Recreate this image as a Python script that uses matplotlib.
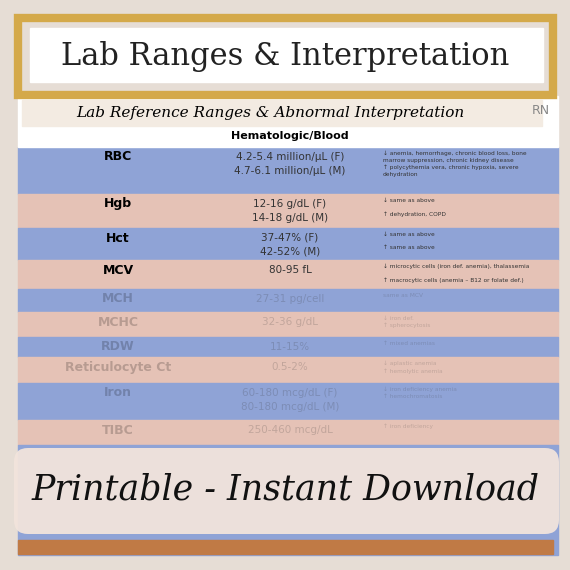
import matplotlib.pyplot as plt
from matplotlib.patches import Rectangle, FancyBboxPatch

# table rows
tests = ["RBC", "Hgb", "Hct", "MCV", "MCH", "MCHC", "RDW", "Reticulocyte Ct", "Iron", "TIBC"]
ranges = ["4.2-5.4 million/\u00b5L (F)\n4.7-6.1 million/\u00b5L (M)",
          "12-16 g/dL (F)\n14-18 g/dL (M)",
          "37-47% (F)\n42-52% (M)",
          "80-95 fL",
          "27-31 pg/cell", "32-36 g/dL", "11-15%", "0.5-2%",
          "60-180 mcg/dL (F)\n80-180 mcg/dL (M)", "250-460 mcg/dL"]
notes = ["\u2193 anemia, hemorrhage, chronic blood loss, bone\nmarrow suppression, chronic kidney disease\n\u2191 polycythemia vera, chronic hypoxia, severe\ndehydration",
         "\u2193 same as above\n\n\u2191 dehydration, COPD",
         "\u2193 same as above\n\n\u2191 same as above",
         "\u2193 microcytic cells (iron def. anemia), thalassemia\n\n\u2191 macrocytic cells (anemia \u2013 B12 or folate def.)",
         "same as MCV", "\u2193 iron def.\n\u2191 spherocytosis", "\u2191 mixed anemias",
         "\u2193 aplastic anemia\n\u2191 hemolytic anemia", "\u2193 iron deficiency anemia\n\u2191 hemochromatosis",
         "\u2191 iron deficiency"]
row_edges = [147, 194, 228, 260, 289, 312, 337, 357, 383, 420, 445]

fig = plt.figure(figsize=(5.7, 5.7), dpi=100)
ax = fig.add_axes([0, 0, 1, 1])
ax.set_xlim(0, 570)
ax.set_ylim(570, 0)
ax.axis("off")
fig.patch.set_facecolor("#e6ddd5")

# table
blue, pink = "#8fa3d6", "#e5c2b6"
for i, t in enumerate(tests):
    y0, y1 = row_edges[i], row_edges[i + 1]
    ax.add_patch(Rectangle((18, y0), 540, y1 - y0, color=blue if i % 2 == 0 else pink, zorder=1))
    a = 1.0 if i < 4 else 0.2
    ax.text(118, y0 + 10, t, ha="center", va="center", fontsize=9, fontweight="bold", alpha=a, zorder=2)
    ax.text(290, y0 + 5, ranges[i], ha="center", va="top", fontsize=7.5, linespacing=1.5,
            color="#333333", alpha=a, zorder=2)
    ax.text(383, y0 + 4, notes[i], ha="left", va="top", fontsize=4.2, linespacing=1.4,
            color="#333333", alpha=a, zorder=2)
ax.add_patch(Rectangle((18, 445), 540, 110, color=blue, zorder=1))
ax.add_patch(Rectangle((18, 96), 540, 51, color="white", zorder=1))
ax.add_patch(Rectangle((22, 100), 520, 26, color="#f3ebe2", zorder=1))
ax.text(270, 113, "Lab Reference Ranges & Abnormal Interpretation", ha="center", va="center",
        fontsize=11, style="italic", family="DejaVu Serif", zorder=2)
ax.text(541, 110, "RN", ha="center", va="center", fontsize=9, color="#888888", zorder=2)
ax.text(290, 136, "Hematologic/Blood", ha="center", va="center", fontsize=8, fontweight="bold", zorder=2)

# top banner
ax.add_patch(Rectangle((18, 18), 535, 77, facecolor="none", edgecolor="#d4a94a", lw=6, zorder=3))
ax.add_patch(Rectangle((30, 28), 513, 54, color="white", zorder=3))
ax.text(285, 56, "Lab Ranges & Interpretation", ha="center", va="center", fontsize=22,
        family="DejaVu Serif", color="#222222", zorder=4)

# bottom banner
ax.add_patch(Rectangle((18, 540), 535, 14, color="#c07a45", zorder=3))
ax.add_patch(FancyBboxPatch((14, 448), 545, 86, boxstyle="round,pad=0,rounding_size=14",
                            facecolor="#f2e4dc", edgecolor="none", alpha=0.95, zorder=4))
ax.text(286, 490, "Printable - Instant Download", ha="center", va="center", fontsize=25,
        style="italic", family="DejaVu Serif", color="#111111", zorder=5)

fig.savefig("out.png", dpi=100, facecolor=fig.get_facecolor())
